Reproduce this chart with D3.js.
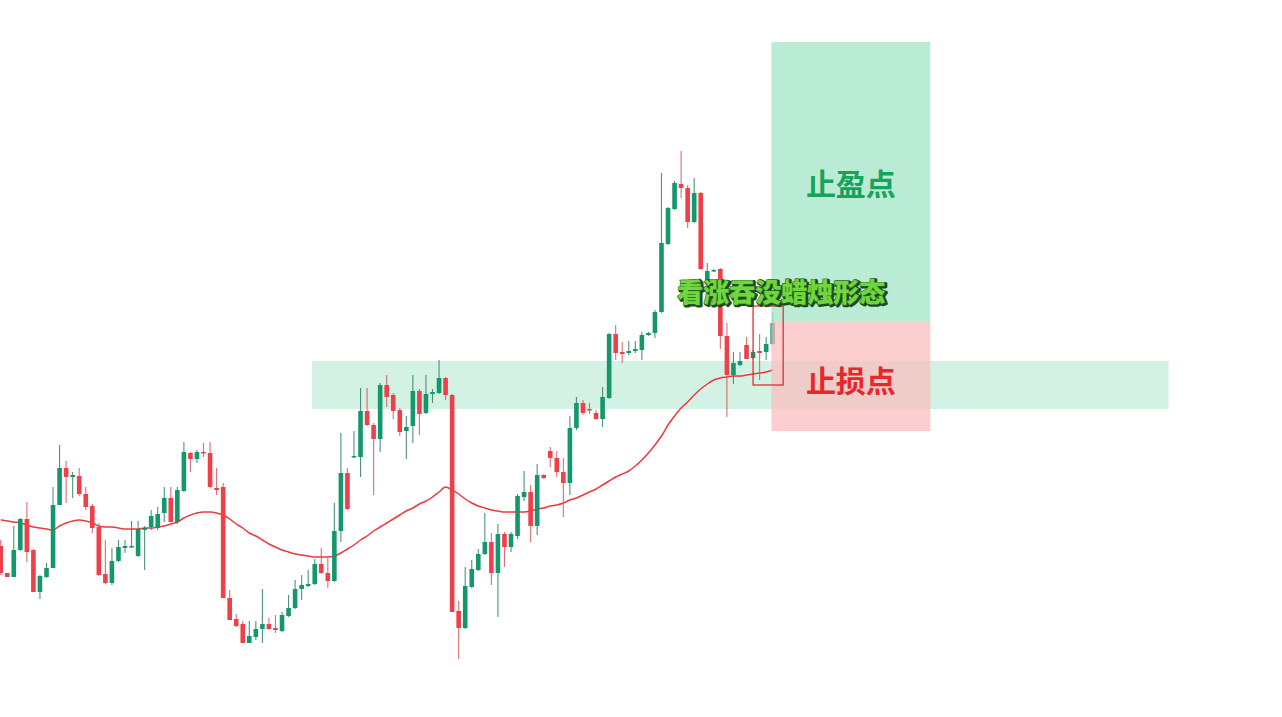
<!DOCTYPE html>
<html>
<head>
<meta charset="utf-8">
<script src="https://cdn.jsdelivr.net/npm/d3@7/dist/d3.min.js"></script>
<style>
  html, body { margin: 0; padding: 0; background: #ffffff; }
  svg { display: block; }
</style>
</head>
<body>
<svg id="chart" width="1282" height="717"></svg>
<script>
// ---- Data (price units) ----
const openP  = [154,127,123,150,181,150,108,123,132,195,232,223,224,206,194,173,126,117,139,152,153,144,170,173,172,187,202,178,209,247,241,248,247,212,213,102,81,76,57,63,71,76,72,69,84,92,111,114,116,136,127,119,169,227,243,243,289,275,261,315,305,290,269,274,309,287,306,307,322,305,89,72,113,130,146,158,127,166,153,164,203,208,174,225,249,242,228,217,272,297,291,287,281,302,366,348,347,349,350,365,367,388,456,491,516,512,478,507,420,429,431,364,325,335,355,342,349,348,356];
const highP  = [160,127,174,182,198,151,125,137,213,255,239,228,232,213,196,177,160,152,160,160,179,179,174,190,193,213,213,213,258,248,250,257,258,232,217,110,86,79,79,79,111,82,85,88,105,120,125,130,141,152,142,197,267,232,269,312,312,277,317,325,307,292,284,325,311,325,311,340,323,306,99,133,140,151,187,167,176,168,168,206,229,215,236,226,253,249,242,284,303,300,297,290,313,367,375,358,359,359,368,368,390,527,493,519,549,515,522,508,437,431,432,377,348,348,363,350,366,363,388];
const lowP   = [125,123,123,149,138,108,101,122,132,195,197,202,204,190,167,124,116,115,138,147,152,143,130,170,170,178,178,176,208,228,237,243,212,205,102,80,73,57,57,60,57,70,67,68,83,91,100,113,115,126,112,118,158,190,242,223,274,205,248,293,281,264,241,257,265,286,297,306,300,88,41,71,112,129,145,115,83,133,148,161,199,158,165,221,233,223,183,205,270,285,286,280,273,301,340,337,345,347,340,364,362,387,455,490,502,472,477,430,418,428,351,283,316,334,341,341,320,340,355];
const closeP = [127,123,150,181,148,108,124,132,195,232,223,225,206,193,172,125,117,139,153,154,154,171,172,184,186,202,178,210,248,241,248,247,213,210,102,80,74,57,64,71,76,71,70,85,92,111,115,116,136,127,119,169,227,191,244,289,275,261,315,303,289,268,273,309,286,306,308,322,305,88,72,114,131,146,158,127,166,153,166,204,208,174,225,222,242,228,217,272,297,287,290,281,303,366,347,346,349,351,365,367,388,457,492,517,512,478,507,431,429,430,364,325,337,339,341,348,347,356,377];
const maP    = [180,179,178,177,175,173,172,171,170,174,177,179,180,179,177,174,173,173,172,171,171,171,172,172,173,174,176,178,182,185,187,188,188,187,185,181,176,172,167,164,160,156,153,150,148,146,145,144,143,143,143,144,147,151,155,160,164,169,173,177,181,185,189,192,196,199,203,208,213,210,206,201,197,194,192,190,189,188,188,188,188,189,191,192,194,195,197,200,202,205,208,211,215,219,223,226,229,234,240,247,255,264,275,284,292,298,305,311,316,320,322,323,324,324,325,326,327,328,330];

// zones (price / candle-index units)
const supportZone   = { from: 291, to: 339, i0: 47.6, i1: 178.5 };
const takeProfit    = { from: 378, to: 658, i0: 117.8, i1: 142.1, label: "止盈点", labelP: 518 };
const stopLoss      = { from: 269, to: 378, i0: 117.8, i1: 142.1, label: "止损点", labelP: 321 };
const patternBox    = { from: 315, to: 394, i0: 115.0, i1: 119.6 };
const patternLabel  = { text: "看涨吞没蜡烛形态", i: 119.3, p: 410 };

const candles = openP.map((o, i) => ({ i, o, h: highP[i], l: lowP[i], c: closeP[i] }));

// ---- Scales ----
const svg = d3.select("#chart");
const x = d3.scaleLinear().domain([0, candles.length - 1]).range([0.7, 772.7]);
const y = d3.scaleLinear().domain([0, 700]).range([700, 0]);
const bodyW = 4.6;

const GREEN = "#14976c";
const RED = "#ef3f49";

// support band (behind candles)
svg.append("rect")
  .attr("x", x(supportZone.i0)).attr("width", x(supportZone.i1) - x(supportZone.i0))
  .attr("y", y(supportZone.to)).attr("height", y(supportZone.from) - y(supportZone.to))
  .attr("fill", "#d3f2e3");

// MA line
svg.append("path")
  .datum(maP)
  .attr("fill", "none")
  .attr("stroke", "#f0383c")
  .attr("stroke-width", 1.5)
  .attr("d", d3.line().x((d, i) => x(i)).y(d => y(d)).curve(d3.curveMonotoneX));

// candles
const g = svg.append("g");
const cg = g.selectAll("g.c").data(candles).join("g").attr("class", "c");
cg.append("line")
  .attr("x1", d => x(d.i)).attr("x2", d => x(d.i))
  .attr("y1", d => y(d.h)).attr("y2", d => y(d.l))
  .attr("stroke", d => d.c >= d.o ? "#2f7f66" : "#d8525a")
  .attr("stroke-width", 1.1)
  .attr("stroke-opacity", 0.85);
cg.append("rect")
  .attr("x", d => x(d.i) - bodyW / 2)
  .attr("width", bodyW)
  .attr("y", d => y(Math.max(d.o, d.c)))
  .attr("height", d => Math.max(1.5, Math.abs(y(d.o) - y(d.c))))
  .attr("fill", d => d.c >= d.o ? GREEN : RED);

// take-profit and stop-loss zones (translucent, over candles)
svg.append("rect")
  .attr("x", x(takeProfit.i0)).attr("width", x(takeProfit.i1) - x(takeProfit.i0))
  .attr("y", y(takeProfit.to)).attr("height", y(takeProfit.from) - y(takeProfit.to))
  .attr("fill", "#a6e6c8").attr("fill-opacity", 0.78);
svg.append("rect")
  .attr("x", x(stopLoss.i0)).attr("width", x(stopLoss.i1) - x(stopLoss.i0))
  .attr("y", y(stopLoss.to)).attr("height", y(stopLoss.from) - y(stopLoss.to))
  .attr("fill", "#f9bcbd").attr("fill-opacity", 0.72);

// pattern box
svg.append("rect")
  .attr("x", x(patternBox.i0)).attr("width", x(patternBox.i1) - x(patternBox.i0))
  .attr("y", y(patternBox.to)).attr("height", y(patternBox.from) - y(patternBox.to))
  .attr("fill", "none").attr("stroke", "#e0302f").attr("stroke-width", 1.3);

// zone labels
const midI = (takeProfit.i0 + takeProfit.i1) / 2;
svg.append("text")
  .attr("x", x(midI)).attr("y", y(takeProfit.labelP))
  .attr("text-anchor", "middle").attr("dominant-baseline", "central")
  .attr("font-family", "'Noto Sans CJK SC', sans-serif").attr("font-weight", 700)
  .attr("font-size", 30).attr("fill", "#17a35a")
  .text(takeProfit.label);
svg.append("text")
  .attr("x", x(midI)).attr("y", y(stopLoss.labelP))
  .attr("text-anchor", "middle").attr("dominant-baseline", "central")
  .attr("font-family", "'Noto Sans CJK SC', sans-serif").attr("font-weight", 700)
  .attr("font-size", 30).attr("fill", "#e8262c")
  .text(stopLoss.label);

// pattern label with outline
const lbl = svg.append("g");
lbl.append("text")
  .attr("x", x(patternLabel.i) + 1.5).attr("y", y(patternLabel.p) + 1.5)
  .attr("text-anchor", "middle").attr("dominant-baseline", "central")
  .attr("font-family", "'Noto Sans CJK SC', sans-serif").attr("font-weight", 900)
  .attr("font-size", 26).attr("fill", "#1d4a1d").attr("stroke", "#1d4a1d").attr("stroke-width", 3)
  .attr("stroke-linejoin", "round")
  .text(patternLabel.text);
lbl.append("text")
  .attr("x", x(patternLabel.i)).attr("y", y(patternLabel.p))
  .attr("text-anchor", "middle").attr("dominant-baseline", "central")
  .attr("font-family", "'Noto Sans CJK SC', sans-serif").attr("font-weight", 900)
  .attr("font-size", 26).attr("fill", "#6fd63e").attr("stroke", "#2f6b25").attr("stroke-width", 1.2)
  .attr("paint-order", "stroke")
  .text(patternLabel.text);
</script>
</body>
</html>
